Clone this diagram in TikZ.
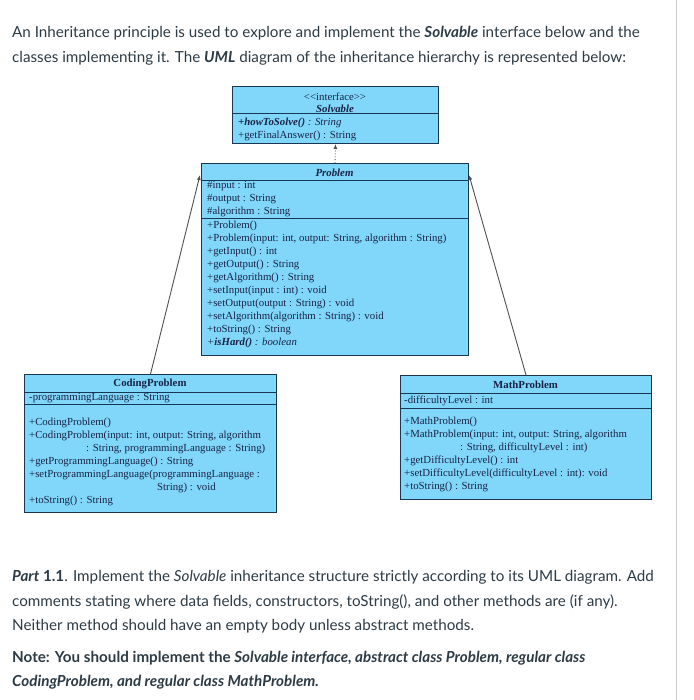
\documentclass[tikz,border=0pt]{standalone}
\usepackage{fontspec}
\setmainfont{Lato}
\newfontfamily\umlfont{Liberation Serif}
\usetikzlibrary{arrows.meta}
\definecolor{boxfill}{RGB}{128,215,250}
\definecolor{boxline}{RGB}{25,55,85}
\definecolor{umltext}{RGB}{25,35,70}
\definecolor{paratext}{RGB}{45,59,69}
\definecolor{edgegray}{RGB}{200,200,200}
\definecolor{conn}{RGB}{80,80,80}
\begin{document}
\begin{tikzpicture}[x=1pt,y=-1pt,
  umlbox/.style={draw=boxline, fill=boxfill, line width=1pt, inner sep=0pt, anchor=north west},
  sepline/.style={draw=boxline, line width=1pt},
  ut/.style={font=\umlfont\fontsize{10.8}{12}\selectfont, text=umltext, inner sep=0pt, anchor=west},
  uc/.style={font=\umlfont\fontsize{10.8}{12}\selectfont, text=umltext, inner sep=0pt, anchor=center},
  para/.style={font=\fontsize{15.2}{18}\selectfont, text=paratext, inner sep=0pt, anchor=west},
  inherit/.style={draw=conn, line width=0.9pt, -{Latex[length=5pt,width=4pt]}},
  realize/.style={draw=conn, line width=0.9pt, dotted, -{Latex[length=5pt,width=4pt]}}]
\useasboundingbox[fill=white] (0,0) rectangle (693,700);
\draw[edgegray, line width=1pt] (676,0) -- (676,700);

% top paragraph
\node[para] (p1) at (12,33) {An Inheritance principle is used to explore and implement the \textbf{\textit{Solvable}} interface below and the};
\node[para] (p2) at (12,58) {classes implementing it. The \textbf{\textit{UML}} diagram of the inheritance hierarchy is represented below:};

% Solvable
\node[umlbox, minimum width=206pt, minimum height=57pt] (solv) at (232,86) {};
\draw[sepline] (232,114) -- (438,114);
\node[uc] (s1) at (335,97) {<<interface>>};
\node[uc] (s2) at (335,109) {\textbf{\textit{Solvable}}};
\node[ut] (s3) at (238,123) {\textit{\textbf{+howToSolve()} : String}};
\node[ut] (s4) at (238,136) {+getFinalAnswer() : String};

% Problem
\node[umlbox, minimum width=267pt, minimum height=192pt] (prob) at (201,163) {};
\draw[sepline] (201,181) -- (468,181);
\draw[sepline] (201,219) -- (468,219);
\node[uc] (pt) at (334.5,173) {\textbf{\textit{Problem}}};
\node[ut] (pa1) at (207,186) {\#input : int};
\node[ut] (pa2) at (207,199) {\#output : String};
\node[ut] (pa3) at (207,212) {\#algorithm : String};
\node[ut] (pm1) at (207,226) {+Problem()};
\node[ut] (pm2) at (207,239) {+Problem(input: int, output: String, algorithm : String)};
\node[ut] (pm3) at (207,252) {+getInput() : int};
\node[ut] (pm4) at (207,265) {+getOutput() : String};
\node[ut] (pm5) at (207,278) {+getAlgorithm() : String};
\node[ut] (pm6) at (207,291) {+setInput(input : int) : void};
\node[ut] (pm7) at (207,304) {+setOutput(output : String) : void};
\node[ut] (pm8) at (207,317) {+setAlgorithm(algorithm : String) : void};
\node[ut] (pm9) at (207,330) {+toString() : String};
\node[ut] (pm10) at (207,343) {\textit{+\textbf{isHard()} : boolean}};

% CodingProblem
\node[umlbox, minimum width=252pt, minimum height=138pt] (cp) at (24,374) {};
\draw[sepline] (24,392) -- (276,392);
\draw[sepline] (24,404) -- (276,404);
\node[uc] (ct) at (150,384) {\textbf{CodingProblem}};
\node[ut] (ca1) at (29,398) {-programmingLanguage : String};
\node[ut] (cm1) at (29,423) {+CodingProblem()};
\node[ut] (cm2) at (29,436) {+CodingProblem(input: int, output: String, algorithm};
\node[ut] (cm3) at (86,449) {: String, programmingLanguage : String)};
\node[ut] (cm4) at (29,462) {+getProgrammingLanguage() : String};
\node[ut] (cm5) at (29,475) {+setProgrammingLanguage(programmingLanguage :};
\node[ut] (cm6) at (157,488) {String) : void};
\node[ut] (cm7) at (29,501) {+toString() : String};

% MathProblem
\node[umlbox, minimum width=251pt, minimum height=124pt] (mp) at (400,375) {};
\draw[sepline] (400,393) -- (651,393);
\draw[sepline] (400,408) -- (651,408);
\node[uc] (mt) at (525.5,385) {\textbf{MathProblem}};
\node[ut] (ma1) at (404,401) {-difficultyLevel : int};
\node[ut] (mm1) at (404,422) {+MathProblem()};
\node[ut] (mm2) at (404,435) {+MathProblem(input: int, output: String, algorithm};
\node[ut] (mm3) at (460,448) {: String, difficultyLevel : int)};
\node[ut] (mm4) at (404,461) {+getDifficultyLevel() : int};
\node[ut] (mm5) at (404,474) {+setDifficultyLevel(difficultyLevel : int): void};
\node[ut] (mm6) at (404,487) {+toString() : String};

% connectors
\coordinate (pl) at (200,175);
\coordinate (pr) at (469,175);
\draw[realize] (prob.north) -- (solv.south);
\draw[inherit] (cp.north) -- (pl);
\draw[inherit] (mp.north) -- (pr);

% bottom paragraph
\node[para] (b1) at (12,577) {\textbf{\textit{Part} 1.1}. Implement the \textit{Solvable} inheritance structure strictly according to its UML diagram. Add};
\node[para] (b2) at (12,602) {comments stating where data fields, constructors, toString(), and other methods are (if any).};
\node[para] (b3) at (12,626) {Neither method should have an empty body unless abstract methods.};
\node[para] (b4) at (12,658) {\textbf{Note: You should implement the \textit{Solvable interface, abstract class Problem, regular class}}};
\node[para] (b5) at (12,682) {\textbf{\textit{CodingProblem, and regular class MathProblem.}}};
\end{tikzpicture}
\end{document}
